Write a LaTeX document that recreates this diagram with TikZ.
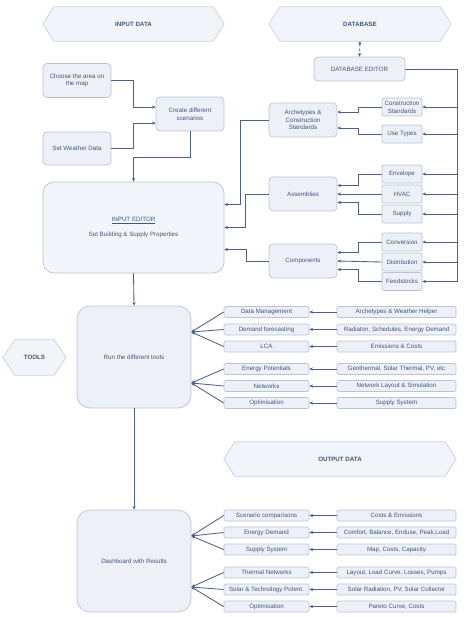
\documentclass[tikz,border=0pt]{standalone}
\usepackage{fontspec}
\setmainfont{Liberation Sans}
\usetikzlibrary{calc,arrows.meta,backgrounds}
\definecolor{boxfill}{HTML}{EDF1F7}
\definecolor{bigfill}{HTML}{F2F5FA}
\definecolor{boxline}{HTML}{B8C4D4}
\definecolor{hexfillc}{HTML}{F1F4F9}
\definecolor{hexline}{HTML}{C9D1DD}
\definecolor{txt}{HTML}{44557A}
\definecolor{wire}{HTML}{4D6086}
\newcommand{\myhex}[2]{\path[hexshape] (#1.west) -- ($(#1.north west)+(#2,0)$) -- ($(#1.north east)+(-#2,0)$) -- (#1.east) -- ($(#1.south east)+(-#2,0)$) -- ($(#1.south west)+(#2,0)$) -- cycle;}
\tikzset{
  base/.style={font=\fontsize{6.2}{7.6}\selectfont, text=txt, align=center, inner sep=0pt},
  bigbox/.style={base, draw=boxline, fill=bigfill, line width=0.7pt, rounded corners=11pt},
  midbox/.style={base, draw=boxline, fill=boxfill, line width=0.7pt, rounded corners=4pt, minimum width=68pt, minimum height=34pt},
  smallbox/.style={base, draw=boxline, fill=boxfill, line width=0.7pt, rounded corners=2pt, minimum width=40pt, minimum height=18pt},
  lbox/.style={base, draw=boxline, fill=boxfill, line width=0.7pt, rounded corners=1.5pt, minimum width=85pt, minimum height=11pt},
  rbox/.style={base, draw=boxline, fill=boxfill, line width=0.7pt, rounded corners=1.5pt, minimum width=119pt, minimum height=11pt},
  hexnode/.style={base, font=\fontsize{6.2}{7.6}\selectfont\bfseries},
  hexshape/.style={draw=hexline, fill=hexfillc, line width=0.7pt},
  conn/.style={draw=wire, line width=0.85pt},
  arr/.style={conn, -{Stealth[length=3.6pt,width=3.2pt]}},
}
\begin{document}
\begin{tikzpicture}[x=1pt,y=-1pt]
\useasboundingbox (0,0) rectangle (474,617);
% headers
\node[hexnode, minimum width=181pt, minimum height=34pt] (indata) at (133.5,24) {INPUT DATA};
\node[hexnode, minimum width=182pt, minimum height=34pt] (db) at (360,24) {DATABASE};
\node[hexnode, minimum width=63pt, minimum height=35pt] (tools) at (34.5,357.5) {TOOLS};
\node[hexnode, minimum width=232pt, minimum height=34pt] (outdata) at (340,459) {OUTPUT DATA};
\begin{scope}[on background layer]
\myhex{indata}{11}
\myhex{db}{11}
\myhex{tools}{12}
\myhex{outdata}{11}
\end{scope}
% input data
\node[midbox] (choose) at (77,80.5) {Choose the area on\\the map};
\node[midbox, minimum height=33pt] (weather) at (77,148.5) {Set Weather Data};
\node[midbox] (scen) at (190,114) {Create different\\scenarios};
\node[bigbox, minimum width=181pt, minimum height=91pt] (ied) at (133.5,227.5) {\underline{INPUT EDITOR}\\[7pt]Set Building \& Supply Properties};
% database
\node[base, draw=boxline, fill=boxfill, line width=0.7pt, rounded corners=4pt, minimum width=91pt, minimum height=24pt] (dbe) at (359.5,69) {DATABASE EDITOR};
\node[midbox] (arch) at (303,120) {Archetypes \&\\Construction\\Standards};
\node[midbox] (asm) at (303,194) {Assemblies};
\node[midbox] (cmp) at (303,261) {Components};
\node[smallbox] (cs) at (402,107) {Construction\\Standards};
\node[smallbox] (ut) at (402,134) {Use Types};
\node[smallbox] (env) at (402,174) {Envelope};
\node[smallbox] (hvac) at (402,194) {HVAC};
\node[smallbox] (sup) at (402,214) {Supply};
\node[smallbox] (conv) at (402,242) {Conversion};
\node[smallbox] (dist) at (402,262) {Distribution};
\node[smallbox] (feed) at (402,281.5) {Feedstocks};
% tools
\node[bigbox, fill=boxfill, rounded corners=13pt, minimum width=114pt, minimum height=102pt] (run) at (134,357) {Run the different tools};
\node[lbox] (t1) at (266.5,312) {Data Management};
\node[lbox] (t2) at (266.5,329.5) {Demand forecasting};
\node[lbox] (t3) at (266.5,346.5) {LCA};
\node[lbox] (t4) at (266.5,369) {Energy Potentials};
\node[lbox] (t5) at (266.5,386) {Networks};
\node[lbox] (t6) at (266.5,403) {Optimisation};
\node[rbox] (r1) at (396.5,312) {Archetypes \& Weather Helper};
\node[rbox] (r2) at (396.5,329.5) {Radiaton, Schedules, Energy Demand};
\node[rbox] (r3) at (396.5,346.5) {Emissions \& Costs};
\node[rbox] (r4) at (396.5,369) {Geothermal, Solar Thermal, PV, etc};
\node[rbox] (r5) at (396.5,386) {Network Layout \& Simulation};
\node[rbox] (r6) at (396.5,403) {Supply System};
% outputs
\node[bigbox, fill=boxfill, rounded corners=13pt, minimum width=114pt, minimum height=102pt] (dash) at (134,561) {Dashboard with Results};
\node[lbox] (o1) at (266.5,515.5) {Scenario comparisons};
\node[lbox] (o2) at (266.5,532.5) {Energy Demand};
\node[lbox] (o3) at (266.5,549.5) {Supply System};
\node[lbox] (o4) at (266.5,572.5) {Thermal Networks};
\node[lbox] (o5) at (266.5,589.5) {Solar \& Technology Potent.};
\node[lbox] (o6) at (266.5,606.5) {Optimisation};
\node[rbox] (s1) at (396.5,515.5) {Costs \& Emissions};
\node[rbox] (s2) at (396.5,532.5) {Comfort, Balance, Enduse, Peak,Load};
\node[rbox] (s3) at (396.5,549.5) {Map, Costs, Capacity};
\node[rbox] (s4) at (396.5,572.5) {Layout, Load Curve, Losses, Pumps};
\node[rbox] (s5) at (396.5,589.5) {Solar Radiation, PV, Solar Collector};
\node[rbox] (s6) at (396.5,606.5) {Pareto Curve, Costs};
% input data wiring
\draw[arr] (choose.east) -- ++(22,0) |- ($(scen.west)+(0,-7)$);
\draw[arr] (weather.east) -- ++(22,0) |- ($(scen.west)+(0,9)$);
\draw[arr] (scen.south) -- ++(0,26) -| (ied.north);
% database wiring
\draw[conn, densely dashed, {Stealth[length=3.6pt,width=3.2pt]}-{Stealth[length=3.6pt,width=3.2pt]}] (db.south) -- (dbe.north);
\coordinate (bus) at ($(dbe.east)+(52,0)$);
\draw[conn] (dbe.east) -- (bus) -- (bus |- feed.east);
\foreach \n in {cs,ut,env,hvac,sup,conv,dist,feed}{
  \draw[arr] (bus |- \n.east) -- (\n.east);
}
\draw[arr] (cs.west) -- ++(-23,0) |- ($(arch.east)+(0,-8)$);
\draw[arr] (ut.west) -- ++(-23,0) |- ($(arch.east)+(0,8)$);
\draw[arr] (env.west) -- ++(-23,0) |- ($(asm.east)+(0,-8.5)$);
\draw[arr] (hvac.west) -- (asm.east);
\draw[arr] (sup.west) -- ++(-23,0) |- ($(asm.east)+(0,8.5)$);
\draw[arr] (conv.west) -- ++(-23,0) |- ($(cmp.east)+(0,-8.5)$);
\draw[arr] (dist.west) -- (cmp.east);
\draw[arr] (feed.west) -- ++(-23,0) |- ($(cmp.east)+(0,8.5)$);
\draw[arr] (arch.west) -- ++(-28,0) |- ($(ied.east)+(0,-23)$);
\draw[arr] (asm.west) -- ++(-23,0) |- (ied.east);
\draw[arr] (cmp.west) -- ++(-22,0) |- ($(ied.east)+(0,22)$);
% main flow
\draw[arr] (ied.south) -- (run.north);
\draw[arr] (run.south) -- (dash.north);
% tools wiring
\coordinate (ta) at ($(run.east)+(0,-25)$);
\coordinate (tb) at ($(run.east)+(0,26)$);
\foreach \n in {t1,t2,t3}{\draw[arr] (\n.west) -- (ta);}
\foreach \n in {t4,t5,t6}{\draw[arr] (\n.west) -- (tb);}
\foreach \i in {1,...,6}{\draw[arr] (r\i.west) -- (t\i.east);}
% outputs wiring
\coordinate (oa) at ($(dash.east)+(0,-25)$);
\coordinate (ob) at ($(dash.east)+(0,26)$);
\foreach \n in {o1,o2,o3}{\draw[arr] (\n.west) -- (oa);}
\foreach \n in {o4,o5,o6}{\draw[arr] (\n.west) -- (ob);}
\foreach \i in {1,...,6}{\draw[arr] (s\i.west) -- (o\i.east);}
\end{tikzpicture}
\end{document}
